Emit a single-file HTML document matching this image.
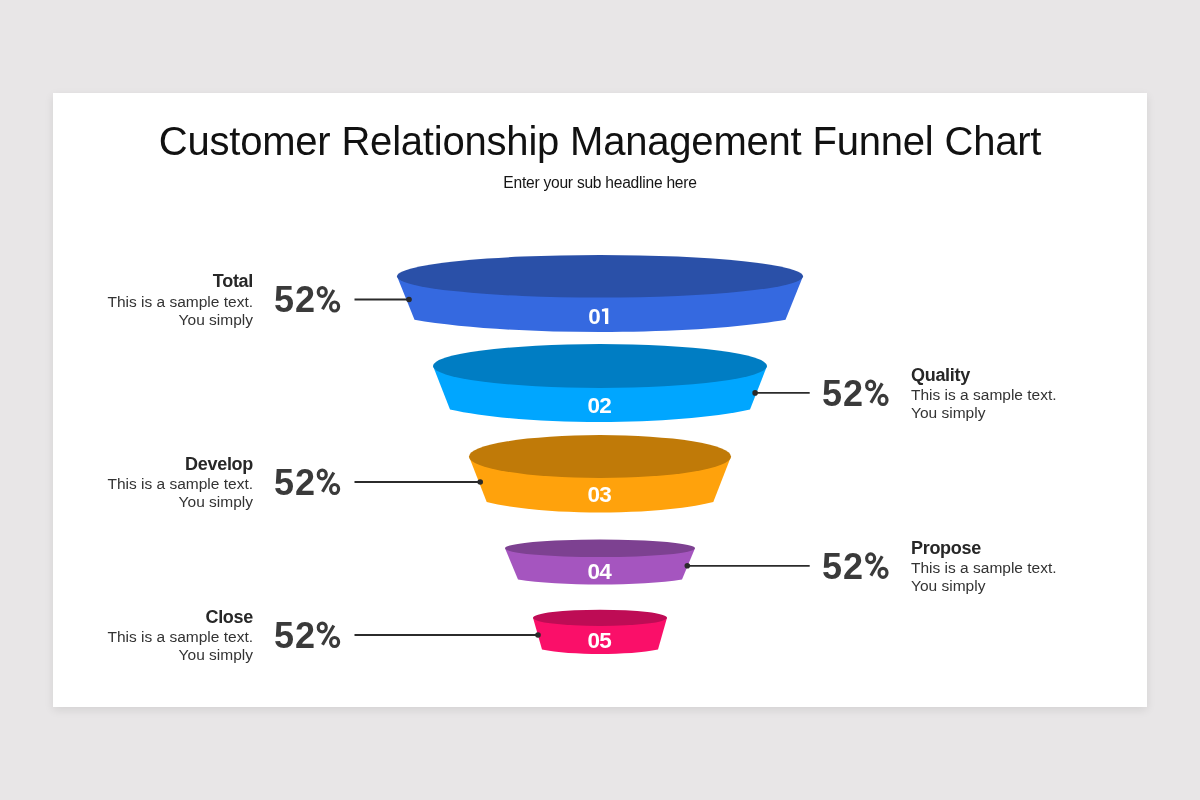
<!DOCTYPE html>
<html>
<head>
<meta charset="utf-8">
<style>
*{margin:0;padding:0;box-sizing:border-box}
html,body{width:1200px;height:800px;overflow:hidden;background:#e8e6e7;font-family:"Liberation Sans",sans-serif}
#card{position:absolute;left:53px;top:93px;width:1094px;height:614px;background:#fff;box-shadow:0 3px 9px rgba(0,0,0,0.09)}
.t{position:absolute;white-space:nowrap;line-height:1}
.t,.lbl,.pct{will-change:transform}
#title{left:0;width:1200px;text-align:center;top:121px;font-size:40px;letter-spacing:-0.2px;color:#111}
#sub{left:0;width:1200px;text-align:center;top:174.5px;font-size:15.6px;letter-spacing:-0.25px;color:#151515}
.lbl{position:absolute;width:200px;color:#333}
.lbl b{display:block;position:relative;top:1px;font-size:18px;line-height:20px;height:20px;color:#272727;letter-spacing:-0.3px}
.lbl span{display:block;font-size:15.5px;line-height:21.73px;height:21.73px}
.lbl span+span{line-height:14.67px;height:14.67px}
.L{text-align:right}
.R{text-align:left}
.pct{position:absolute;font-size:36px;letter-spacing:1px;font-weight:bold;color:#3a3a3a;line-height:36px;white-space:nowrap}
.num{font-family:"Liberation Sans",sans-serif;font-weight:bold;font-size:22.5px;letter-spacing:-0.8px;fill:#fff}
svg{position:absolute;left:0;top:0}
</style>
</head>
<body>
<div id="card"></div>
<div class="t" id="title">Customer Relationship Management Funnel Chart</div>
<div class="t" id="sub">Enter your sub headline here</div>
<svg width="1200" height="800" viewBox="0 0 1200 800">
<path d="M397,276.3 L414.5,319.8 C507.25,336.20 692.75,336.20 785.5,319.8 L803,276.3 Z" fill="#3569e0"/>
<ellipse cx="600" cy="276.3" rx="203" ry="21.3" fill="#2a50a8"/>
<path d="M433,366.0 L450.0,409.5 C525.00,426.17 675.00,426.17 750.0,409.5 L767,366.0 Z" fill="#00a6ff"/>
<ellipse cx="600" cy="366.0" rx="167" ry="22.0" fill="#007dc3"/>
<path d="M469,456.5 L486.7,502.0 C543.35,516.00 656.65,516.00 713.3,502.0 L731,456.5 Z" fill="#ffa20c"/>
<ellipse cx="600" cy="456.5" rx="131" ry="21.5" fill="#c07a08"/>
<path d="M505,548.3 L518.0,579.5 C559.00,586.17 641.00,586.17 682.0,579.5 L695,548.3 Z" fill="#a555bf"/>
<ellipse cx="600" cy="548.3" rx="95" ry="8.8" fill="#7d4191"/>
<path d="M533,617.8 L542.0,649.5 C571.00,655.50 629.00,655.50 658.0,649.5 L667,617.8 Z" fill="#fa0f69"/>
<ellipse cx="600" cy="617.8" rx="67" ry="8.1" fill="#be0c55"/>
<g class="num" text-anchor="middle">
<text x="594.2" y="324">0</text>
<text x="599.3" y="413">02</text>
<text x="599.3" y="502">03</text>
<text x="599.3" y="579">04</text>
<text x="599.3" y="648">05</text>
</g>
<polygon fill="#fff" points="601.9,309.3 605.3,308.3 608.3,308.3 608.3,324 605,324 605,311.4 601.9,311.6"/>
<g stroke="#2b2b2b" stroke-width="1.8">
<line x1="354.5" y1="299.5" x2="409.0" y2="299.5"/>
<line x1="755.1" y1="392.9" x2="809.7" y2="392.9"/>
<line x1="354.5" y1="482.0" x2="480.2" y2="482.0"/>
<line x1="687.3" y1="565.8" x2="809.7" y2="565.8"/>
<line x1="354.5" y1="635.0" x2="538.0" y2="635.0"/>
</g><g fill="#2a2a2a">
<circle cx="409.0" cy="299.5" r="2.8"/>
<circle cx="755.1" cy="392.9" r="2.8"/>
<circle cx="480.2" cy="482.0" r="2.8"/>
<circle cx="687.3" cy="565.8" r="2.8"/>
<circle cx="538.0" cy="635.0" r="2.8"/>
</g>
</svg>
<div class="pct" style="left:273.8px;top:282.40px">52</div>
<div class="lbl L" style="left:52.5px;top:271.46px"><b style="top:0">Total</b><span>This is a sample text.</span><span>You simply</span></div>
<div class="pct" style="left:822.2px;top:375.80px">52</div>
<div class="lbl R" style="left:911.0px;top:363.86px"><b>Quality</b><span>This is a sample text.</span><span>You simply</span></div>
<div class="pct" style="left:273.8px;top:464.90px">52</div>
<div class="lbl L" style="left:52.5px;top:452.96px"><b>Develop</b><span>This is a sample text.</span><span>You simply</span></div>
<div class="pct" style="left:822.2px;top:548.70px">52</div>
<div class="lbl R" style="left:911.0px;top:536.76px"><b>Propose</b><span>This is a sample text.</span><span>You simply</span></div>
<div class="pct" style="left:273.8px;top:617.90px">52</div>
<div class="lbl L" style="left:52.5px;top:605.96px"><b>Close</b><span>This is a sample text.</span><span>You simply</span></div>
<svg width="1200" height="800" viewBox="0 0 1200 800"><g fill="none" stroke="#3a3a3a" stroke-width="3.2"><ellipse cx="322.25" cy="292.00" rx="4.0" ry="4.35"/><ellipse cx="334.60" cy="306.50" rx="4.0" ry="4.5"/><line x1="322.50" y1="309.30" x2="333.80" y2="290.00"/><ellipse cx="870.65" cy="385.40" rx="4.0" ry="4.35"/><ellipse cx="883.00" cy="399.90" rx="4.0" ry="4.5"/><line x1="870.90" y1="402.70" x2="882.20" y2="383.40"/><ellipse cx="322.25" cy="474.50" rx="4.0" ry="4.35"/><ellipse cx="334.60" cy="489.00" rx="4.0" ry="4.5"/><line x1="322.50" y1="491.80" x2="333.80" y2="472.50"/><ellipse cx="870.65" cy="558.30" rx="4.0" ry="4.35"/><ellipse cx="883.00" cy="572.80" rx="4.0" ry="4.5"/><line x1="870.90" y1="575.60" x2="882.20" y2="556.30"/><ellipse cx="322.25" cy="627.50" rx="4.0" ry="4.35"/><ellipse cx="334.60" cy="642.00" rx="4.0" ry="4.5"/><line x1="322.50" y1="644.80" x2="333.80" y2="625.50"/></g></svg>
</body>
</html>
